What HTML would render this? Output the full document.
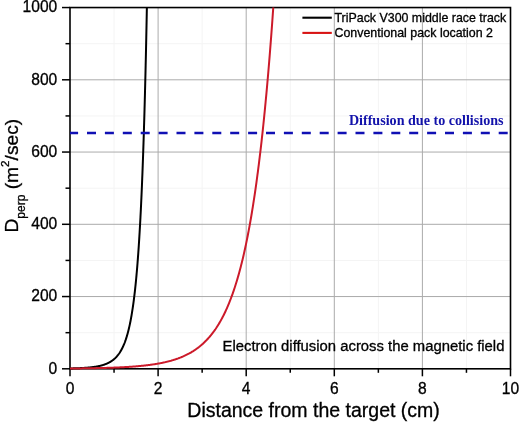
<!DOCTYPE html>
<html><head><meta charset="utf-8"><style>
html,body{margin:0;padding:0;background:#fff;width:520px;height:422px;overflow:hidden}
svg{display:block}
.t{font-family:'Liberation Sans',Arial,sans-serif;fill:#000;stroke:#000;stroke-width:0.3px}
</style></head><body>
<svg width="520" height="422" viewBox="0 0 520 422">
<rect width="520" height="422" fill="#fff"/>
<g stroke="#f4f4f4" stroke-width="1"><line x1="114.05" y1="7.55" x2="114.05" y2="368.8"/><line x1="202.15" y1="7.55" x2="202.15" y2="368.8"/><line x1="290.25" y1="7.55" x2="290.25" y2="368.8"/><line x1="378.35" y1="7.55" x2="378.35" y2="368.8"/><line x1="466.45" y1="7.55" x2="466.45" y2="368.8"/><line x1="70.0" y1="332.68" x2="510.5" y2="332.68"/><line x1="70.0" y1="260.43" x2="510.5" y2="260.43"/><line x1="70.0" y1="188.18" x2="510.5" y2="188.18"/><line x1="70.0" y1="115.93" x2="510.5" y2="115.93"/><line x1="70.0" y1="43.68" x2="510.5" y2="43.68"/></g>
<g stroke="#ababab" stroke-width="1"><line x1="158.10" y1="7.55" x2="158.10" y2="368.8"/><line x1="246.20" y1="7.55" x2="246.20" y2="368.8"/><line x1="334.30" y1="7.55" x2="334.30" y2="368.8"/><line x1="422.40" y1="7.55" x2="422.40" y2="368.8"/><line x1="70.0" y1="296.55" x2="510.5" y2="296.55"/><line x1="70.0" y1="224.30" x2="510.5" y2="224.30"/><line x1="70.0" y1="152.05" x2="510.5" y2="152.05"/><line x1="70.0" y1="79.80" x2="510.5" y2="79.80"/></g>
<g stroke="#000" stroke-width="1.5"><line x1="70.00" y1="368.8" x2="70.00" y2="376.3"/><line x1="114.05" y1="368.8" x2="114.05" y2="372.8"/><line x1="158.10" y1="368.8" x2="158.10" y2="376.3"/><line x1="202.15" y1="368.8" x2="202.15" y2="372.8"/><line x1="246.20" y1="368.8" x2="246.20" y2="376.3"/><line x1="290.25" y1="368.8" x2="290.25" y2="372.8"/><line x1="334.30" y1="368.8" x2="334.30" y2="376.3"/><line x1="378.35" y1="368.8" x2="378.35" y2="372.8"/><line x1="422.40" y1="368.8" x2="422.40" y2="376.3"/><line x1="466.45" y1="368.8" x2="466.45" y2="372.8"/><line x1="510.50" y1="368.8" x2="510.50" y2="376.3"/><line x1="70.0" y1="368.80" x2="62.0" y2="368.80"/><line x1="70.0" y1="332.68" x2="65.5" y2="332.68"/><line x1="70.0" y1="296.55" x2="62.0" y2="296.55"/><line x1="70.0" y1="260.43" x2="65.5" y2="260.43"/><line x1="70.0" y1="224.30" x2="62.0" y2="224.30"/><line x1="70.0" y1="188.18" x2="65.5" y2="188.18"/><line x1="70.0" y1="152.05" x2="62.0" y2="152.05"/><line x1="70.0" y1="115.93" x2="65.5" y2="115.93"/><line x1="70.0" y1="79.80" x2="62.0" y2="79.80"/><line x1="70.0" y1="43.68" x2="65.5" y2="43.68"/><line x1="70.0" y1="7.55" x2="62.0" y2="7.55"/></g>
<rect x="70.0" y="7.55" width="440.5" height="361.25" fill="none" stroke="#000" stroke-width="1.6"/>
<path d="M70.00,368.45 L70.26,368.45 L70.53,368.44 L70.79,368.43 L71.06,368.43 L71.32,368.42 L71.58,368.41 L71.85,368.41 L72.11,368.40 L72.37,368.39 L72.63,368.39 L72.89,368.38 L73.16,368.37 L73.42,368.36 L73.68,368.36 L73.94,368.35 L74.20,368.34 L74.45,368.33 L74.71,368.32 L74.97,368.32 L75.23,368.31 L75.49,368.30 L75.74,368.29 L76.00,368.28 L76.26,368.27 L76.51,368.26 L76.77,368.25 L77.03,368.24 L77.28,368.23 L77.54,368.22 L77.79,368.21 L78.04,368.20 L78.30,368.19 L78.55,368.18 L78.80,368.17 L79.06,368.16 L79.31,368.15 L79.56,368.14 L79.81,368.13 L80.06,368.12 L80.31,368.10 L80.56,368.09 L80.81,368.08 L81.06,368.07 L81.31,368.05 L81.56,368.04 L81.81,368.03 L82.06,368.01 L82.31,368.00 L82.55,367.99 L82.80,367.97 L83.05,367.96 L83.29,367.94 L83.54,367.93 L83.78,367.91 L84.03,367.90 L84.28,367.88 L84.52,367.86 L84.76,367.85 L85.01,367.83 L85.25,367.81 L85.49,367.80 L85.74,367.78 L85.98,367.76 L86.22,367.74 L86.46,367.73 L86.70,367.71 L86.94,367.69 L87.19,367.67 L87.43,367.65 L87.67,367.63 L87.90,367.61 L88.14,367.59 L88.38,367.56 L88.62,367.54 L88.86,367.52 L89.10,367.50 L89.33,367.48 L89.57,367.45 L89.81,367.43 L90.04,367.41 L90.28,367.38 L90.51,367.36 L90.75,367.33 L90.98,367.30 L91.22,367.28 L91.45,367.25 L91.69,367.22 L91.92,367.20 L92.15,367.17 L92.38,367.14 L92.62,367.11 L92.85,367.08 L93.08,367.05 L93.31,367.02 L93.54,366.99 L93.77,366.96 L94.00,366.93 L94.23,366.89 L94.46,366.86 L94.69,366.83 L94.92,366.79 L95.15,366.76 L95.37,366.72 L95.60,366.68 L95.83,366.65 L96.05,366.61 L96.28,366.57 L96.51,366.53 L96.73,366.49 L96.96,366.45 L97.18,366.41 L97.41,366.37 L97.63,366.33 L97.85,366.28 L98.08,366.24 L98.30,366.19 L98.52,366.15 L98.75,366.10 L98.97,366.05 L99.19,366.01 L99.41,365.96 L99.63,365.91 L99.85,365.86 L100.07,365.81 L100.29,365.75 L100.51,365.70 L100.73,365.65 L100.95,365.59 L101.17,365.53 L101.38,365.48 L101.60,365.42 L101.82,365.36 L102.04,365.30 L102.25,365.24 L102.47,365.18 L102.68,365.11 L102.90,365.05 L103.11,364.98 L103.33,364.91 L103.54,364.85 L103.76,364.78 L103.97,364.71 L104.18,364.63 L104.40,364.56 L104.61,364.49 L104.82,364.41 L105.03,364.34 L105.24,364.26 L105.46,364.18 L105.67,364.10 L105.88,364.01 L106.09,363.93 L106.30,363.84 L106.50,363.76 L106.71,363.67 L106.92,363.58 L107.13,363.49 L107.34,363.40 L107.54,363.30 L107.75,363.20 L107.96,363.11 L108.16,363.01 L108.37,362.91 L108.58,362.80 L108.78,362.70 L108.99,362.59 L109.19,362.48 L109.39,362.37 L109.60,362.26 L109.80,362.14 L110.00,362.03 L110.21,361.91 L110.41,361.79 L110.61,361.66 L110.81,361.54 L111.01,361.41 L111.21,361.28 L111.41,361.15 L111.61,361.02 L111.81,360.88 L112.01,360.74 L112.21,360.60 L112.41,360.46 L112.61,360.31 L112.81,360.16 L113.00,360.01 L113.20,359.86 L113.40,359.70 L113.59,359.54 L113.79,359.38 L113.99,359.21 L114.18,359.05 L114.38,358.88 L114.57,358.70 L114.77,358.52 L114.96,358.34 L115.15,358.16 L115.35,357.98 L115.54,357.79 L115.73,357.59 L115.92,357.40 L116.11,357.20 L116.31,356.99 L116.50,356.79 L116.69,356.58 L116.88,356.36 L117.07,356.14 L117.26,355.92 L117.45,355.70 L117.63,355.47 L117.82,355.23 L118.01,355.00 L118.20,354.75 L118.39,354.51 L118.57,354.26 L118.76,354.00 L118.95,353.74 L119.13,353.48 L119.32,353.21 L119.50,352.94 L119.69,352.66 L119.87,352.38 L120.05,352.09 L120.24,351.80 L120.42,351.50 L120.60,351.20 L120.79,350.89 L120.97,350.58 L121.15,350.26 L121.33,349.93 L121.51,349.60 L121.69,349.26 L121.87,348.92 L122.05,348.57 L122.23,348.22 L122.41,347.86 L122.59,347.49 L122.77,347.12 L122.95,346.74 L123.13,346.35 L123.30,345.96 L123.48,345.56 L123.66,345.15 L123.83,344.74 L124.01,344.32 L124.19,343.89 L124.36,343.45 L124.54,343.01 L124.71,342.56 L124.88,342.10 L125.06,341.63 L125.23,341.15 L125.40,340.67 L125.58,340.18 L125.75,339.67 L125.92,339.16 L126.09,338.64 L126.26,338.12 L126.43,337.58 L126.61,337.03 L126.78,336.48 L126.95,335.91 L127.11,335.33 L127.28,334.75 L127.45,334.15 L127.62,333.54 L127.79,332.93 L127.96,332.30 L128.12,331.66 L128.29,331.01 L128.46,330.35 L128.62,329.67 L128.79,328.99 L128.95,328.29 L129.12,327.58 L129.28,326.86 L129.45,326.12 L129.61,325.38 L129.78,324.61 L129.94,323.84 L130.10,323.05 L130.26,322.25 L130.43,321.44 L130.59,320.61 L130.75,319.76 L130.91,318.90 L131.07,318.03 L131.23,317.14 L131.39,316.24 L131.55,315.31 L131.71,314.38 L131.87,313.42 L132.03,312.45 L132.18,311.47 L132.34,310.46 L132.50,309.44 L132.66,308.40 L132.81,307.34 L132.97,306.27 L133.13,305.17 L133.28,304.06 L133.44,302.92 L133.59,301.77 L133.75,300.59 L133.90,299.40 L134.05,298.18 L134.21,296.95 L134.36,295.69 L134.51,294.41 L134.66,293.10 L134.82,291.78 L134.97,290.43 L135.12,289.06 L135.27,287.66 L135.42,286.24 L135.57,284.79 L135.72,283.32 L135.87,281.82 L136.02,280.30 L136.17,278.75 L136.32,277.17 L136.46,275.57 L136.61,273.93 L136.76,272.27 L136.90,270.58 L137.05,268.86 L137.20,267.11 L137.34,265.33 L137.49,263.52 L137.63,261.67 L137.78,259.80 L137.92,257.89 L138.07,255.94 L138.21,253.97 L138.35,251.96 L138.50,249.91 L138.64,247.83 L138.78,245.71 L138.92,243.55 L139.06,241.36 L139.20,239.12 L139.34,236.85 L139.48,234.54 L139.62,232.19 L139.76,229.80 L139.90,227.36 L140.04,224.89 L140.18,222.36 L140.32,219.80 L140.46,217.19 L140.59,214.53 L140.73,211.83 L140.87,209.08 L141.00,206.28 L141.14,203.44 L141.27,200.54 L141.41,197.59 L141.54,194.59 L141.68,191.54 L141.81,188.44 L141.95,185.28 L142.08,182.06 L142.21,178.79 L142.34,175.46 L142.48,172.08 L142.61,168.63 L142.74,165.13 L142.87,161.56 L143.00,157.93 L143.13,154.23 L143.26,150.48 L143.39,146.65 L143.52,142.76 L143.65,138.80 L143.78,134.77 L143.91,130.67 L144.03,126.50 L144.16,122.26 L144.29,117.94 L144.42,113.54 L144.54,109.07 L144.67,104.52 L144.79,99.89 L144.92,95.18 L145.04,90.39 L145.17,85.51 L145.29,80.55 L145.42,75.50 L145.54,70.36 L145.66,65.14 L145.79,59.82 L145.91,54.41 L146.03,48.90 L146.15,43.29 L146.27,37.59 L146.39,31.79 L146.51,25.89 L146.63,19.88 L146.75,13.77 L146.87,7.55" fill="none" stroke="#000" stroke-width="2" stroke-linejoin="round"/>
<path d="M70.00,368.51 L70.57,368.51 L71.14,368.50 L71.70,368.50 L72.27,368.49 L72.84,368.48 L73.41,368.48 L73.97,368.47 L74.54,368.47 L75.10,368.46 L75.67,368.45 L76.24,368.45 L76.80,368.44 L77.36,368.44 L77.93,368.43 L78.49,368.42 L79.06,368.42 L79.62,368.41 L80.18,368.40 L80.75,368.39 L81.31,368.39 L81.87,368.38 L82.43,368.37 L83.00,368.36 L83.56,368.36 L84.12,368.35 L84.68,368.34 L85.24,368.33 L85.80,368.32 L86.36,368.32 L86.92,368.31 L87.48,368.30 L88.04,368.29 L88.60,368.28 L89.15,368.27 L89.71,368.26 L90.27,368.25 L90.83,368.24 L91.38,368.23 L91.94,368.22 L92.50,368.21 L93.05,368.20 L93.61,368.19 L94.17,368.18 L94.72,368.17 L95.28,368.16 L95.83,368.14 L96.39,368.13 L96.94,368.12 L97.49,368.11 L98.05,368.10 L98.60,368.08 L99.15,368.07 L99.71,368.06 L100.26,368.04 L100.81,368.03 L101.36,368.02 L101.91,368.00 L102.47,367.99 L103.02,367.97 L103.57,367.96 L104.12,367.94 L104.67,367.93 L105.22,367.91 L105.77,367.90 L106.31,367.88 L106.86,367.86 L107.41,367.85 L107.96,367.83 L108.51,367.81 L109.06,367.79 L109.60,367.78 L110.15,367.76 L110.70,367.74 L111.24,367.72 L111.79,367.70 L112.33,367.68 L112.88,367.66 L113.42,367.64 L113.97,367.62 L114.51,367.60 L115.06,367.58 L115.60,367.55 L116.15,367.53 L116.69,367.51 L117.23,367.49 L117.78,367.46 L118.32,367.44 L118.86,367.41 L119.40,367.39 L119.94,367.36 L120.48,367.34 L121.02,367.31 L121.57,367.28 L122.11,367.26 L122.65,367.23 L123.19,367.20 L123.72,367.17 L124.26,367.14 L124.80,367.11 L125.34,367.08 L125.88,367.05 L126.42,367.02 L126.95,366.99 L127.49,366.95 L128.03,366.92 L128.57,366.89 L129.10,366.85 L129.64,366.82 L130.17,366.78 L130.71,366.75 L131.24,366.71 L131.78,366.67 L132.31,366.63 L132.85,366.59 L133.38,366.56 L133.92,366.51 L134.45,366.47 L134.98,366.43 L135.52,366.39 L136.05,366.35 L136.58,366.30 L137.11,366.26 L137.64,366.21 L138.17,366.16 L138.71,366.12 L139.24,366.07 L139.77,366.02 L140.30,365.97 L140.83,365.92 L141.36,365.87 L141.88,365.81 L142.41,365.76 L142.94,365.71 L143.47,365.65 L144.00,365.59 L144.53,365.54 L145.05,365.48 L145.58,365.42 L146.11,365.36 L146.63,365.29 L147.16,365.23 L147.69,365.17 L148.21,365.10 L148.74,365.04 L149.26,364.97 L149.79,364.90 L150.31,364.83 L150.83,364.76 L151.36,364.68 L151.88,364.61 L152.40,364.54 L152.93,364.46 L153.45,364.38 L153.97,364.30 L154.49,364.22 L155.02,364.14 L155.54,364.05 L156.06,363.97 L156.58,363.88 L157.10,363.79 L157.62,363.70 L158.14,363.61 L158.66,363.52 L159.18,363.42 L159.70,363.33 L160.21,363.23 L160.73,363.13 L161.25,363.03 L161.77,362.92 L162.29,362.82 L162.80,362.71 L163.32,362.60 L163.84,362.49 L164.35,362.37 L164.87,362.26 L165.38,362.14 L165.90,362.02 L166.41,361.90 L166.93,361.77 L167.44,361.65 L167.96,361.52 L168.47,361.39 L168.98,361.25 L169.50,361.12 L170.01,360.98 L170.52,360.84 L171.04,360.70 L171.55,360.55 L172.06,360.40 L172.57,360.25 L173.08,360.10 L173.59,359.94 L174.10,359.78 L174.61,359.62 L175.12,359.46 L175.63,359.29 L176.14,359.12 L176.65,358.94 L177.16,358.76 L177.67,358.58 L178.18,358.40 L178.68,358.21 L179.19,358.02 L179.70,357.83 L180.20,357.63 L180.71,357.43 L181.22,357.23 L181.72,357.02 L182.23,356.81 L182.73,356.59 L183.24,356.37 L183.74,356.15 L184.25,355.92 L184.75,355.69 L185.26,355.45 L185.76,355.21 L186.26,354.97 L186.77,354.72 L187.27,354.47 L187.77,354.21 L188.27,353.94 L188.77,353.68 L189.28,353.41 L189.78,353.13 L190.28,352.85 L190.78,352.56 L191.28,352.27 L191.78,351.97 L192.28,351.67 L192.78,351.36 L193.28,351.05 L193.77,350.73 L194.27,350.40 L194.77,350.07 L195.27,349.73 L195.77,349.39 L196.26,349.04 L196.76,348.69 L197.26,348.32 L197.75,347.96 L198.25,347.58 L198.74,347.20 L199.24,346.81 L199.73,346.41 L200.23,346.01 L200.72,345.60 L201.22,345.18 L201.71,344.76 L202.21,344.33 L202.70,343.89 L203.19,343.44 L203.68,342.98 L204.18,342.52 L204.67,342.05 L205.16,341.56 L205.65,341.07 L206.14,340.58 L206.63,340.07 L207.12,339.55 L207.61,339.03 L208.10,338.49 L208.59,337.94 L209.08,337.39 L209.57,336.82 L210.06,336.25 L210.55,335.66 L211.04,335.07 L211.53,334.46 L212.01,333.84 L212.50,333.21 L212.99,332.57 L213.47,331.92 L213.96,331.26 L214.45,330.58 L214.93,329.90 L215.42,329.20 L215.90,328.48 L216.39,327.76 L216.87,327.02 L217.36,326.27 L217.84,325.50 L218.32,324.73 L218.81,323.93 L219.29,323.13 L219.77,322.30 L220.26,321.47 L220.74,320.62 L221.22,319.75 L221.70,318.87 L222.18,317.97 L222.66,317.06 L223.14,316.12 L223.62,315.18 L224.10,314.21 L224.58,313.23 L225.06,312.23 L225.54,311.21 L226.02,310.18 L226.50,309.12 L226.98,308.05 L227.46,306.96 L227.93,305.84 L228.41,304.71 L228.89,303.56 L229.36,302.39 L229.84,301.19 L230.32,299.98 L230.79,298.74 L231.27,297.48 L231.74,296.19 L232.22,294.89 L232.69,293.56 L233.17,292.20 L233.64,290.83 L234.11,289.42 L234.59,288.00 L235.06,286.54 L235.53,285.06 L236.01,283.56 L236.48,282.02 L236.95,280.46 L237.42,278.87 L237.89,277.26 L238.36,275.61 L238.83,273.93 L239.30,272.23 L239.77,270.49 L240.24,268.72 L240.71,266.92 L241.18,265.09 L241.65,263.22 L242.12,261.32 L242.59,259.39 L243.06,257.42 L243.52,255.42 L243.99,253.38 L244.46,251.30 L244.92,249.19 L245.39,247.04 L245.86,244.85 L246.32,242.62 L246.79,240.35 L247.25,238.04 L247.72,235.69 L248.18,233.29 L248.65,230.85 L249.11,228.37 L249.57,225.85 L250.04,223.28 L250.50,220.66 L250.96,217.99 L251.43,215.28 L251.89,212.52 L252.35,209.71 L252.81,206.85 L253.27,203.93 L253.73,200.97 L254.20,197.95 L254.66,194.88 L255.12,191.75 L255.58,188.56 L256.04,185.32 L256.49,182.02 L256.95,178.66 L257.41,175.24 L257.87,171.76 L258.33,168.21 L258.79,164.61 L259.24,160.93 L259.70,157.19 L260.16,153.39 L260.61,149.51 L261.07,145.57 L261.53,141.55 L261.98,137.46 L262.44,133.30 L262.89,129.07 L263.35,124.75 L263.80,120.36 L264.25,115.90 L264.71,111.35 L265.16,106.72 L265.61,102.00 L266.07,97.20 L266.52,92.32 L266.97,87.34 L267.42,82.28 L267.88,77.13 L268.33,71.88 L268.78,66.54 L269.23,61.10 L269.68,55.57 L270.13,49.93 L270.58,44.20 L271.03,38.36 L271.48,32.41 L271.93,26.36 L272.38,20.20 L272.82,13.93 L273.27,7.55" fill="none" stroke="#cc1a2a" stroke-width="2" stroke-linejoin="round"/>
<line x1="70.0" y1="133" x2="510.5" y2="133" stroke="#1010b4" stroke-width="2.3" stroke-dasharray="9 8.9" stroke-dashoffset="0.9"/>
<g class="t" font-size="15.6"><text x="70.00" y="393.7" text-anchor="middle">0</text><text x="158.10" y="393.7" text-anchor="middle">2</text><text x="246.20" y="393.7" text-anchor="middle">4</text><text x="334.30" y="393.7" text-anchor="middle">6</text><text x="422.40" y="393.7" text-anchor="middle">8</text><text x="510.50" y="393.7" text-anchor="middle">10</text><text x="57.3" y="373.70" text-anchor="end">0</text><text x="57.3" y="301.45" text-anchor="end">200</text><text x="57.3" y="229.20" text-anchor="end">400</text><text x="57.3" y="156.95" text-anchor="end">600</text><text x="57.3" y="84.70" text-anchor="end">800</text><text x="57.3" y="12.45" text-anchor="end">1000</text></g>
<text class="t" x="187.3" y="417.2" font-size="19.5">Distance from the target (cm)</text>
<text class="t" transform="translate(18,232.5) rotate(-90)" font-size="19.2">D<tspan font-size="12" dy="6.8">perp</tspan><tspan dy="-6.8"> (m</tspan><tspan font-size="11.6" dy="-9.1">2</tspan><tspan dy="9.1">/sec)</tspan></text>
<line x1="302.4" y1="17.7" x2="331.8" y2="17.7" stroke="#000" stroke-width="2.1"/>
<line x1="302.4" y1="32.9" x2="331.8" y2="32.9" stroke="#d81414" stroke-width="2.1"/>
<g class="t" font-size="12.4">
<text x="334.5" y="21.5">TriPack V300 middle race track</text>
<text x="334.5" y="36.6">Conventional pack location 2</text>
</g>
<text class="t" x="222.5" y="351.4" font-size="14.85">Electron diffusion across the magnetic field</text>
<text x="348.9" y="125.1" font-family="'Liberation Serif', 'Times New Roman', serif" font-weight="bold" font-size="14.1" fill="#1212aa">Diffusion due to collisions</text>
</svg>
</body></html>
